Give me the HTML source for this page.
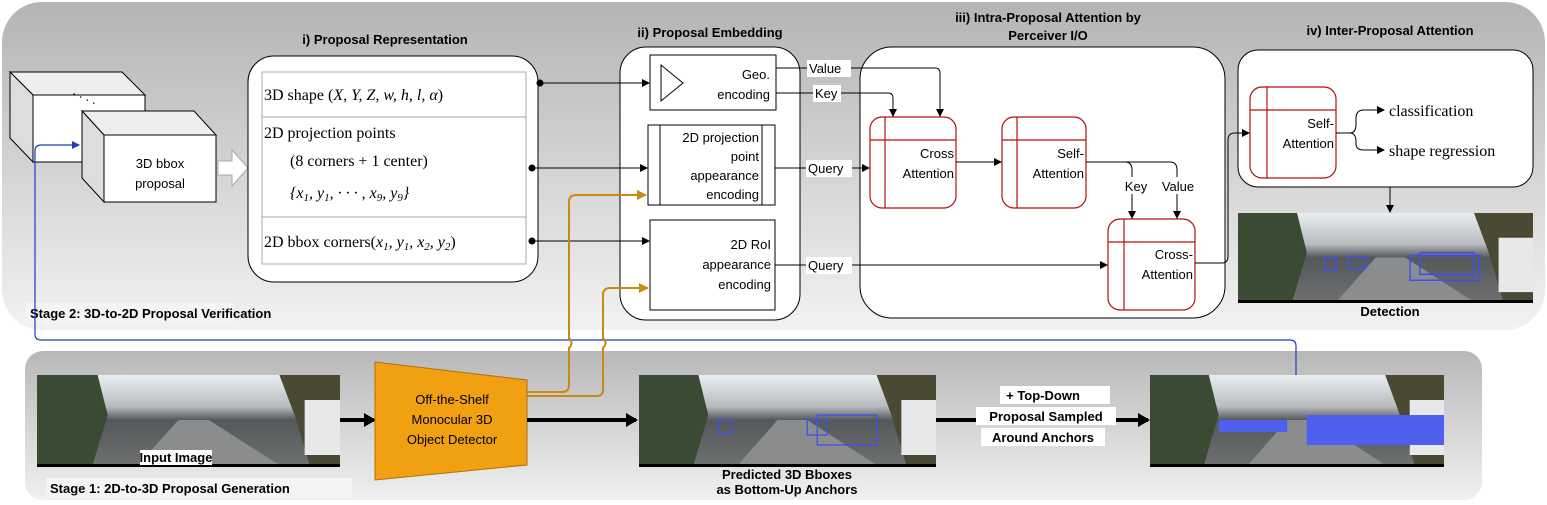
<!DOCTYPE html>
<html><head><meta charset="utf-8"><style>
html,body{margin:0;padding:0;background:#fff;}
svg{display:block;}
text{font-family:"Liberation Sans",sans-serif;}
.t{font-family:"Liberation Sans",sans-serif;font-size:13px;fill:#000;}
.b{font-weight:bold;font-size:13px;}
.m{font-family:"Liberation Serif",serif;font-size:16px;}
</style></head><body>
<svg width="1547" height="505" viewBox="0 0 1547 505" xmlns="http://www.w3.org/2000/svg">
<defs>
<linearGradient id="g2" x1="0" y1="0" x2="0" y2="1"><stop offset="0" stop-color="#b4b4b4"/><stop offset="1" stop-color="#f2f2f2"/></linearGradient>
<linearGradient id="g1" x1="0" y1="0" x2="0" y2="1"><stop offset="0" stop-color="#b8b8b8"/><stop offset="1" stop-color="#f0f0f0"/></linearGradient>
<linearGradient id="ph" x1="0" y1="0" x2="0" y2="1"><stop offset="0" stop-color="#e8eef2"/><stop offset="0.35" stop-color="#b9bcbe"/><stop offset="0.5" stop-color="#55585a"/><stop offset="1" stop-color="#6d6f70"/></linearGradient>
<marker id="a" markerWidth="8" markerHeight="8" refX="7" refY="4" orient="auto" markerUnits="userSpaceOnUse"><path d="M0,0 L8,4 L0,8 z" fill="#000"/></marker>
<marker id="ao" markerWidth="10" markerHeight="10" refX="9" refY="5" orient="auto" markerUnits="userSpaceOnUse"><path d="M0,0 L10,5 L0,10 z" fill="#c98a14"/></marker>
<marker id="ab" markerWidth="8" markerHeight="8" refX="7" refY="4" orient="auto" markerUnits="userSpaceOnUse"><path d="M0,0 L8,4 L0,8 z" fill="#1a3cc0"/></marker>
<marker id="at" markerWidth="14" markerHeight="14" refX="10" refY="7" orient="auto" markerUnits="userSpaceOnUse"><path d="M0,0 L12,7 L0,14 z" fill="#000"/></marker>
<marker id="d" markerWidth="8" markerHeight="8" refX="4" refY="4" markerUnits="userSpaceOnUse"><circle cx="4" cy="4" r="3.5" fill="#000"/></marker>
<g id="photo">
<rect width="300" height="90" fill="url(#ph)"/>
<path d="M0,0 L60,0 L70,40 L55,90 L0,90 z" fill="#3b4a32"/>
<path d="M240,0 L300,0 L300,90 L270,90 L255,40 z" fill="#4a4a34"/>
<rect x="265" y="25" width="35" height="55" fill="#e6e8ea"/>
<path d="M100,90 L140,45 L170,45 L240,90 z" fill="#8a8c8e"/>
</g>
</defs>

<rect x="2" y="2" width="1543" height="328" rx="40" fill="url(#g2)"/>
<rect x="25" y="351" width="1457" height="149" rx="18" fill="url(#g1)"/>

<!-- cubes -->
<g stroke="#000" stroke-width="1" fill="#fff">
<path d="M10,72 L122,72 L145,95 L33,95 z" fill="#eee"/>
<path d="M10,72 L33,95 L33,162 L10,138 z" fill="#ddd"/>
<rect x="33" y="95" width="112" height="67"/>
<path d="M82,111 L194,111 L216,135 L104,135 z" fill="#eee"/>
<path d="M82,111 L104,135 L104,202 L82,178 z" fill="#ddd"/>
<rect x="104" y="135" width="112" height="67"/>
</g>
<text class="t" x="70" y="100" font-size="12" transform="rotate(25 85 102)">. . . .</text>
<text class="t" x="160" y="168" text-anchor="middle" font-size="14">3D bbox</text>
<text class="t" x="160" y="188" text-anchor="middle" font-size="14">proposal</text>
<path d="M218,161 L232,161 L232,150 L248,168 L232,186 L232,175 L218,175 z" fill="#fff" stroke="#aaa"/>

<!-- i) Proposal representation -->
<text class="b" x="385" y="44" text-anchor="middle">i) Proposal Representation</text>
<rect x="248" y="56" width="290" height="226" rx="26" fill="#fff" stroke="#000"/>
<rect x="262" y="72" width="264" height="192" fill="#fff" stroke="#aaa"/>
<line x1="262" y1="117" x2="526" y2="117" stroke="#aaa"/>
<line x1="262" y1="217" x2="526" y2="217" stroke="#aaa"/>
<text class="m" x="264" y="100">3D shape (<tspan font-style="italic">X, Y, Z, w, h, l, α</tspan>)</text>
<text class="m" x="264" y="138">2D projection points</text>
<text class="m" x="290" y="166">(8 corners + 1 center)</text>
<text class="m" x="290" y="198" font-style="italic">{x<tspan font-size="11" dy="3">1</tspan><tspan dy="-3">, y</tspan><tspan font-size="11" dy="3">1</tspan><tspan dy="-3">, · · · , x</tspan><tspan font-size="11" dy="3">9</tspan><tspan dy="-3">, y</tspan><tspan font-size="11" dy="3">9</tspan><tspan dy="-3">}</tspan></text>
<text class="m" x="264" y="247">2D bbox corners(<tspan font-style="italic">x<tspan font-size="11" dy="3">1</tspan><tspan dy="-3">, y</tspan><tspan font-size="11" dy="3">1</tspan><tspan dy="-3">, x</tspan><tspan font-size="11" dy="3">2</tspan><tspan dy="-3">, y</tspan><tspan font-size="11" dy="3">2</tspan></tspan><tspan dy="-3">)</tspan></text>

<!-- ii) Embedding -->
<text class="b" x="710" y="37" text-anchor="middle">ii) Proposal Embedding</text>
<rect x="620" y="47" width="180" height="273" rx="26" fill="#fff" stroke="#000"/>
<rect x="650" y="55" width="126" height="55" fill="#fff" stroke="#000"/>
<path d="M661,65 L661,101 L683,83 z" fill="#fff" stroke="#000"/>
<text class="t" x="770" y="79" text-anchor="end">Geo.</text>
<text class="t" x="770" y="99" text-anchor="end">encoding</text>
<rect x="648" y="125" width="127" height="80" fill="#fff" stroke="#000"/>
<line x1="660" y1="125" x2="660" y2="205" stroke="#000"/>
<line x1="762" y1="125" x2="762" y2="205" stroke="#000"/>
<text class="t" x="759" y="142" text-anchor="end">2D projection</text>
<text class="t" x="759" y="161" text-anchor="end">point</text>
<text class="t" x="759" y="180" text-anchor="end">appearance</text>
<text class="t" x="759" y="199" text-anchor="end">encoding</text>
<rect x="650" y="220" width="125" height="90" fill="#fff" stroke="#000"/>
<text class="t" x="771" y="249" text-anchor="end">2D RoI</text>
<text class="t" x="771" y="269" text-anchor="end">appearance</text>
<text class="t" x="771" y="289" text-anchor="end">encoding</text>

<g stroke="#000" fill="none" stroke-width="1">
<line x1="540" y1="83" x2="649" y2="83" marker-start="url(#d)" marker-end="url(#a)"/>
<line x1="532" y1="168" x2="647" y2="168" marker-start="url(#d)" marker-end="url(#a)"/>
<line x1="532" y1="241" x2="649" y2="241" marker-start="url(#d)" marker-end="url(#a)"/>
</g>

<!-- iii) Perceiver -->
<text class="b" x="1048" y="22" text-anchor="middle">iii) Intra-Proposal Attention by</text>
<text class="b" x="1048" y="40" text-anchor="middle">Perceiver I/O</text>
<rect x="860" y="47" width="365" height="271" rx="32" fill="#fff" stroke="#000"/>

<!-- iv) Inter-Proposal box -->
<text class="b" x="1390" y="35" text-anchor="middle">iv) Inter-Proposal Attention</text>
<rect x="1238" y="50" width="295" height="137" rx="20" fill="#fff" stroke="#000"/>

<g stroke="#b01010" fill="#fff" stroke-width="1.2">
<rect x="870" y="117" width="86" height="91" rx="12"/>
<line x1="870" y1="140" x2="956" y2="140"/><line x1="885" y1="117" x2="885" y2="208"/>
<rect x="1002" y="117" width="84" height="91" rx="12"/>
<line x1="1002" y1="140" x2="1086" y2="140"/><line x1="1017" y1="117" x2="1017" y2="208"/>
<rect x="1108" y="219" width="87" height="91" rx="12"/>
<line x1="1108" y1="242" x2="1195" y2="242"/><line x1="1124" y1="219" x2="1124" y2="310"/>
<rect x="1250" y="87" width="86" height="91" rx="12"/>
<line x1="1250" y1="110" x2="1336" y2="110"/><line x1="1267" y1="87" x2="1267" y2="178"/>
</g>
<text class="t" x="954" y="158" text-anchor="end" font-size="14">Cross</text>
<text class="t" x="954" y="178" text-anchor="end" font-size="14">Attention</text>
<text class="t" x="1084" y="158" text-anchor="end" font-size="14">Self-</text>
<text class="t" x="1084" y="178" text-anchor="end" font-size="14">Attention</text>
<text class="t" x="1193" y="259" text-anchor="end" font-size="14">Cross-</text>
<text class="t" x="1193" y="279" text-anchor="end" font-size="14">Attention</text>
<text class="t" x="1334" y="128" text-anchor="end" font-size="14">Self-</text>
<text class="t" x="1334" y="148" text-anchor="end" font-size="14">Attention</text>
<text class="m" x="1389" y="116" font-size="17">classification</text>
<text class="m" x="1389" y="156" font-size="17">shape regression</text>

<g stroke="#000" fill="none" stroke-width="1">
<path d="M776,68 L935,68 Q940,68 940,73 L940,116" marker-end="url(#a)"/>
<path d="M776,93 L888,93 Q893,93 893,98 L893,116" marker-end="url(#a)"/>
<line x1="775" y1="168" x2="869" y2="168" marker-end="url(#a)"/>
<line x1="775" y1="265" x2="1107" y2="265" marker-end="url(#a)"/>
<line x1="956" y1="162" x2="1001" y2="162" marker-end="url(#a)"/>
<path d="M1086,162 L1125,162 Q1132,162 1132,170 L1132,218" marker-end="url(#a)"/>
<path d="M1125,162 L1170,162 Q1177,162 1177,170 L1177,218" marker-end="url(#a)"/>
<path d="M1195,263 L1222,263 Q1228,263 1228,256 L1228,140 Q1228,133 1235,133 L1249,133" marker-end="url(#a)"/>
<path d="M1336,133 L1350,133 Q1356,133 1356,124 L1356,118 Q1356,110 1364,110 L1384,110" marker-end="url(#a)"/>
<path d="M1350,133 Q1356,133 1356,142 L1356,144 Q1356,150 1364,150 L1384,150" marker-end="url(#a)"/>
<line x1="1390" y1="187" x2="1390" y2="212" marker-end="url(#a)"/>
</g>
<rect x="1124" y="177" width="24" height="17" fill="#fff"/>
<text class="t" x="1136" y="191" text-anchor="middle">Key</text>
<rect x="1160" y="177" width="36" height="17" fill="#fff"/>
<text class="t" x="1178" y="191" text-anchor="middle">Value</text>
<rect x="807" y="60" width="44" height="17" fill="#fff"/>
<text class="t" x="809" y="73">Value</text>
<rect x="813" y="85" width="28" height="17" fill="#fff"/>
<text class="t" x="815" y="98">Key</text>
<rect x="806" y="160" width="46" height="17" fill="#fff"/>
<text class="t" x="808" y="173">Query</text>
<rect x="806" y="257" width="46" height="17" fill="#fff"/>
<text class="t" x="808" y="270">Query</text>

<svg x="1238" y="213" width="295" height="89" viewBox="0 0 300 90" preserveAspectRatio="none"><use href="#photo"/>
<g stroke="#4050ee" fill="none" stroke-width="1.5"><rect x="88" y="45" width="12" height="13"/><rect x="112" y="44" width="18" height="12"/><rect x="175" y="43" width="70" height="25"/><rect x="185" y="40" width="55" height="22"/></g></svg>
<rect x="1238" y="300" width="295" height="3" fill="#000"/>
<text class="t" x="1390" y="316" text-anchor="middle" font-weight="bold" font-size="11">Detection</text>

<rect x="26" y="303" width="208" height="20" fill="#f4f4f4"/>
<text class="b" x="30" y="318">Stage 2: 3D-to-2D Proposal Verification</text>

<path d="M1296,375 L1296,346 Q1296,340 1290,340 L41,340 Q35,340 35,334 L35,151 Q35,145 41,145 L79,145" fill="none" stroke="#1a3cc0" stroke-width="1.2" marker-end="url(#ab)"/>

<g fill="none" stroke="#c98a14" stroke-width="2">
<path d="M527,392 L562,392 Q569,392 569,385 L569,348 Q574,343 569,338 L569,202 Q569,195 576,195 L646,195" marker-end="url(#ao)"/>
<path d="M527,396 L597,396 Q603,396 603,389 L603,348 Q608,343 603,338 L603,295 Q603,288 610,288 L648,288" marker-end="url(#ao)"/>
</g>

<!-- Stage 1 -->
<svg x="37" y="375" width="303" height="90" viewBox="0 0 300 90" preserveAspectRatio="none"><use href="#photo"/></svg>
<rect x="37" y="464" width="303" height="3" fill="#000"/>
<rect x="140" y="450" width="72" height="15" fill="#fff"/>
<text class="t" x="176" y="462" text-anchor="middle" font-size="11" font-weight="bold">Input Image</text>
<line x1="340" y1="420" x2="374" y2="420" stroke="#000" stroke-width="4" marker-end="url(#at)"/>
<path d="M375,362 L527,380 L527,465 L375,480 z" fill="#f0a010" stroke="#b07008"/>
<text class="t" x="452" y="404" text-anchor="middle" font-size="14">Off-the-Shelf</text>
<text class="t" x="452" y="424" text-anchor="middle" font-size="14">Monocular 3D</text>
<text class="t" x="452" y="444" text-anchor="middle" font-size="14">Object Detector</text>
<line x1="527" y1="420" x2="636" y2="420" stroke="#000" stroke-width="4" marker-end="url(#at)"/>
<svg x="639" y="375" width="297" height="90" viewBox="0 0 300 90" preserveAspectRatio="none"><use href="#photo"/>
<g stroke="#4050ee" fill="none" stroke-width="1.3"><rect x="80" y="45" width="14" height="13"/><rect x="180" y="40" width="60" height="30"/><rect x="170" y="45" width="20" height="15"/></g></svg>
<rect x="639" y="464" width="297" height="3" fill="#000"/>
<text class="t" x="787" y="479" text-anchor="middle" font-size="11" font-weight="bold">Predicted 3D Bboxes</text>
<text class="t" x="787" y="494" text-anchor="middle" font-size="11" font-weight="bold">as Bottom-Up Anchors</text>
<line x1="936" y1="420" x2="1148" y2="420" stroke="#000" stroke-width="4" marker-end="url(#at)"/>
<rect x="1000" y="386" width="110" height="18" fill="#fff"/>
<rect x="976" y="407" width="140" height="18" fill="#fff"/>
<rect x="981" y="428" width="124" height="18" fill="#fff"/>
<text class="t" x="1043" y="400" text-anchor="middle" font-weight="bold" font-size="14">+ Top-Down</text>
<text class="t" x="1046" y="421" text-anchor="middle" font-weight="bold" font-size="14">Proposal Sampled</text>
<text class="t" x="1043" y="442" text-anchor="middle" font-weight="bold" font-size="14">Around Anchors</text>
<svg x="1150" y="375" width="294" height="90" viewBox="0 0 300 90" preserveAspectRatio="none"><use href="#photo"/>
<rect x="70" y="45" width="70" height="12" fill="#5060ee"/><rect x="160" y="40" width="140" height="30" fill="#5060ee"/></svg>
<rect x="1150" y="464" width="294" height="3" fill="#000"/>
<rect x="46" y="478" width="306" height="20" fill="#f4f4f4"/>
<text class="b" x="50" y="493" font-size="14">Stage 1: 2D-to-3D Proposal Generation</text>
</svg>
</body></html>
